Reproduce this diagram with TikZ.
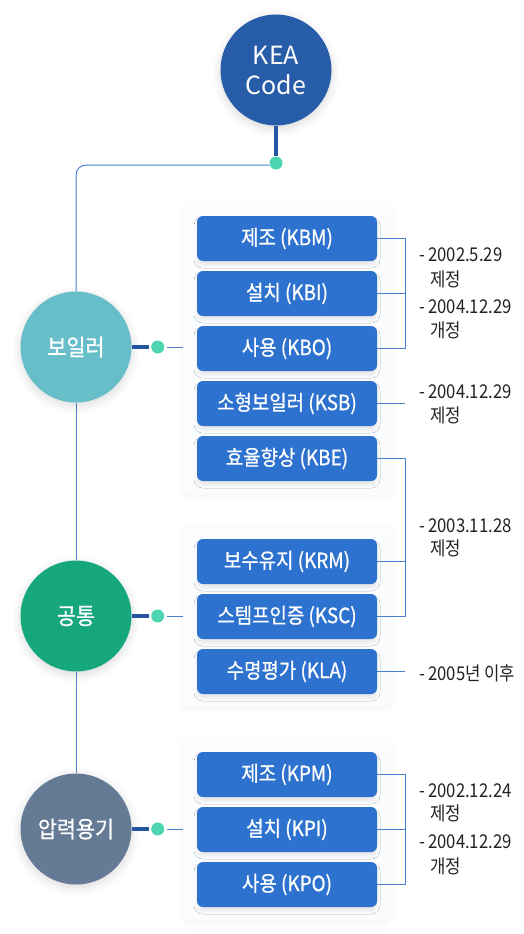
\documentclass[tikz,border=0pt]{standalone}
\usepackage{fontspec}
\setmainfont{Noto Sans CJK KR}
\newfontfamily\labelfont[FakeStretch=0.9, FakeBold=0.8]{Noto Sans CJK KR}
\newfontfamily\notefont[FakeStretch=0.88]{Noto Sans CJK KR}
\usetikzlibrary{shadows.blur}

\definecolor{keablue}{HTML}{275DA8}
\definecolor{stemblue}{HTML}{2656A0}
\definecolor{linkblue}{HTML}{4A7FCF}
\definecolor{dotgreen}{HTML}{4DD4B0}
\definecolor{boilerteal}{HTML}{67BEC9}
\definecolor{commongreen}{HTML}{17A77D}
\definecolor{pressslate}{HTML}{657A95}
\definecolor{btnblue}{HTML}{2D72CE}
\definecolor{panelbg}{HTML}{FBFCFE}
\definecolor{notegray}{HTML}{222222}

\tikzset{
  link/.style={draw=linkblue, line width=1pt},
  stem/.style={draw=stemblue, line width=4pt},
  dot/.style={circle, fill=dotgreen, minimum size=13pt, inner sep=0pt},
  hub/.style={circle, minimum size=111pt, inner sep=0pt, text=white,
    font=\labelfont\fontsize{23}{27}\selectfont,
    blur shadow={shadow xshift=0pt, shadow yshift=-3pt, shadow blur radius=9pt, shadow opacity=15}},
  panel/.style={rounded corners=8pt, fill=panelbg, minimum width=208pt, inner sep=0pt,
    blur shadow={shadow xshift=0pt, shadow yshift=-2pt, shadow blur radius=6pt, shadow opacity=5}},
  btn/.style={rounded corners=6pt, fill=btnblue, text=white, minimum width=180pt,
    minimum height=45pt, inner sep=0pt, font=\labelfont\fontsize{21}{24}\selectfont,
    blur shadow={shadow xshift=0pt, shadow yshift=-4pt, shadow blur radius=3pt, shadow opacity=8}},
  note/.style={anchor=base west, inner sep=0pt, text=notegray, font=\notefont\fontsize{19}{22}\selectfont}
}

\begin{document}
\begin{tikzpicture}[x=1pt, y=-1pt]
  \useasboundingbox (0,0) rectangle (524,934);

  % top
  \node[hub, fill=keablue, align=center, font=\fontsize{25}{30}\selectfont] (kea) at (276,70) {KEA\\Code};
  \node[dot] (top) at (276,163) {};
  \draw[stem] (kea.south) -- (top.north);

  % categories
  \node[hub, fill=boilerteal] (boiler) at (76,347) {보일러};
  \node[hub, fill=commongreen] (common) at (76,616) {공통};
  \node[hub, fill=pressslate] (press) at (76,829) {압력용기};
  \draw[link, rounded corners=10pt] ([yshift=-2pt]top.west) -| (boiler.north);
  \draw[link] (boiler.south) -- (common.north);
  \draw[link] (common.south) -- (press.north);

  % panels
  \node[panel, minimum height=292pt] (p1) at (287,349) {};
  \node[panel, minimum height=182pt] (p2) at (287,616) {};
  \node[panel, minimum height=183pt] (p3) at (287,829.5) {};

  \foreach \c/\p in {boiler/p1, common/p2, press/p3}
  {
    \node[dot] (\c dot) at ([xshift=26pt]\c.east) {};
    \draw[stem] (\c.east) -- ([xshift=-2pt]\c dot.west);
    \draw[link] ([xshift=3pt]\c dot.east) -- (\c dot.east -| \p.west);
  }

  % buttons
  \foreach \y/\t/\n in {238.5/제조 (KBM)/kbm, 293.5/설치 (KBI)/kbi, 348.5/사용 (KBO)/kbo,
                        403.5/소형보일러 (KSB)/ksb, 458.5/효율향상 (KBE)/kbe,
                        561.5/보수유지 (KRM)/krm, 616.5/스템프인증 (KSC)/ksc, 671.5/수명평가 (KLA)/kla,
                        774.5/제조 (KPM)/kpm, 829.5/설치 (KPI)/kpi, 884.5/사용 (KPO)/kpo}
  {
    \node[btn] (\n) at (287,\y) {\t};
  }

  % brackets
  \draw[link] (kbm.east) -- ++(28,0) |- (kbo.east);
  \draw[link] (kbi.east) -- ++(28,0);
  \draw[link] (ksb.east) -- ++(28,0);
  \draw[link] (kbe.east) -- ++(28,0) |- (ksc.east);
  \draw[link] (krm.east) -- ++(28,0);
  \draw[link] (kla.east) -- ++(28,0);
  \draw[link] (kpm.east) -- ++(28,0) |- (kpo.east);
  \draw[link] (kpi.east) -- ++(28,0);

  % notes
  \foreach \x/\y/\t [count=\k] in {419/261/{-\,2002.5.29}, 430/286/제정, 419/313/{-\,2004.12.29}, 430/337/개정,
                                   419/398/{-\,2004.12.29}, 430/422/제정,
                                   419/532/{-\,2003.11.28}, 430/555/제정,
                                   419/680/{-\,2005년 이후},
                                   419/797/{-\,2002.12.24}, 430/820/제정, 419/848/{-\,2004.12.29}, 430/873/개정}
  {
    \node[note] (note\k) at (\x,\y) {\t};
  }
\end{tikzpicture}
\end{document}
